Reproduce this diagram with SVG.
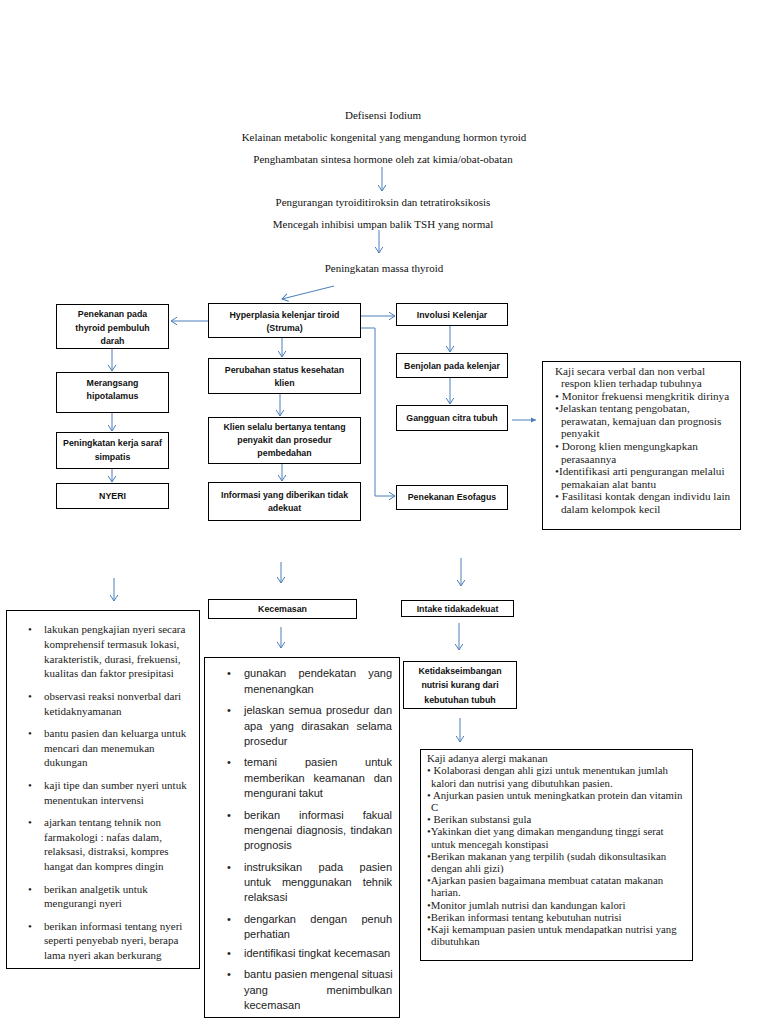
<svg xmlns="http://www.w3.org/2000/svg" width="768" height="1024" viewBox="0 0 768 1024">
<defs>
<marker id="arr" markerUnits="userSpaceOnUse" markerWidth="12" markerHeight="12" refX="9" refY="6" orient="auto">
<path d="M3,2.2 L9,6 L3,9.8" fill="none" stroke="#4a7ebb" stroke-width="1"/>
</marker>
<marker id="arrs" markerUnits="userSpaceOnUse" markerWidth="8" markerHeight="8" refX="5" refY="3" orient="auto">
<path d="M0,0.5 L5,3 L0,5.5 z" fill="#4a7ebb"/>
</marker>
<style>
.box{fill:#fff;stroke:#000;stroke-width:1}
.bt{font-family:"Liberation Sans",Arial,sans-serif;font-size:8.8px;font-weight:bold;text-anchor:middle;fill:#111}
.tt{font-family:"Liberation Serif","Times New Roman",serif;font-size:11px;text-anchor:middle;fill:#111}
.sr{font-family:"Liberation Serif","Times New Roman",serif;font-size:11px;fill:#222}
.sr1{font-family:"Liberation Serif","Times New Roman",serif;font-size:11.2px;fill:#222}
.sr2{font-family:"Liberation Serif","Times New Roman",serif;font-size:10.8px;fill:#222}
.ss{font-family:"Liberation Sans",Arial,sans-serif;font-size:11px;fill:#222}
.ssr{font-family:"Liberation Sans",Arial,sans-serif;font-size:11px;fill:#222;text-anchor:end}
.conn{stroke:#4a7ebb;stroke-width:1;fill:none;marker-end:url(#arr)}
</style>
</defs>
<rect width="768" height="1024" fill="#fff"/>

<g id="top-text">
<text class="tt" x="383" y="119">Defisensi Iodium</text>
<text class="tt" x="384" y="141">Kelainan metabolic kongenital yang mengandung hormon tyroid</text>
<text class="tt" x="383" y="163">Penghambatan sintesa hormone oleh zat kimia/obat-obatan</text>
<text class="tt" x="383" y="206">Pengurangan tyroiditiroksin dan tetratiroksikosis</text>
<text class="tt" x="383" y="228">Mencegah inhibisi umpan balik TSH yang normal</text>
<text class="tt" x="384" y="272">Peningkatan massa thyroid</text>
</g>

<g id="connectors">
<line class="conn" x1="382" y1="167" x2="382" y2="191"/>
<line class="conn" x1="379" y1="230" x2="379" y2="253"/>
<line class="conn" x1="334" y1="286" x2="282" y2="299"/>
<line class="conn" x1="208" y1="321" x2="171" y2="321"/>
<line class="conn" x1="112" y1="348" x2="112" y2="371"/>
<line class="conn" x1="112" y1="412" x2="112" y2="431"/>
<line class="conn" x1="112" y1="468" x2="112" y2="482"/>
<line class="conn" x1="282" y1="337" x2="282" y2="357"/>
<line class="conn" x1="280" y1="393" x2="280" y2="416"/>
<line class="conn" x1="282" y1="463" x2="282" y2="481"/>
<line class="conn" x1="360" y1="316" x2="395" y2="316"/>
<polyline class="conn" points="360,328 375,328 375,496 395,496"/>
<line class="conn" x1="450" y1="325" x2="450" y2="352"/>
<line class="conn" x1="450" y1="377" x2="450" y2="404"/>
<line x1="512" y1="420" x2="536" y2="420" stroke="#4a7ebb" stroke-width="1" marker-end="url(#arrs)"/>
<line class="conn" x1="114" y1="578" x2="114" y2="601"/>
<line class="conn" x1="281" y1="562" x2="281" y2="583"/>
<line class="conn" x1="281" y1="627" x2="281" y2="648"/>
<line class="conn" x1="461" y1="558" x2="461" y2="586"/>
<line class="conn" x1="459" y1="623" x2="459" y2="650"/>
<line class="conn" x1="460" y1="718" x2="460" y2="742"/>
</g>

<g id="penekanan-pembuluh">
<rect class="box" x="56.5" y="304.5" width="112" height="44"/>
<text class="bt" x="112.5" y="317">Penekanan pada</text>
<text class="bt" x="112.5" y="331">thyroid pembuluh</text>
<text class="bt" x="112.5" y="344">darah</text>
</g>
<g id="merangsang">
<rect class="box" x="56.5" y="372.5" width="112" height="40"/>
<text class="bt" x="112.5" y="386">Merangsang</text>
<text class="bt" x="112.5" y="399">hipotalamus</text>
</g>
<g id="peningkatan-saraf">
<rect class="box" x="56.5" y="432.5" width="112" height="36"/>
<text class="bt" x="112.5" y="446">Peningkatan kerja saraf</text>
<text class="bt" x="112.5" y="460">simpatis</text>
</g>
<g id="nyeri">
<rect class="box" x="56.5" y="483.5" width="112" height="25"/>
<text class="bt" x="112.5" y="499">NYERI</text>
</g>

<g id="hyperplasia">
<rect class="box" x="208.5" y="303.5" width="152" height="34"/>
<text class="bt" x="284.5" y="318">Hyperplasia kelenjar tiroid</text>
<text class="bt" x="284.5" y="331">(Struma)</text>
</g>
<g id="perubahan">
<rect class="box" x="208.5" y="358.5" width="152" height="35"/>
<text class="bt" x="284.5" y="373">Perubahan status kesehatan</text>
<text class="bt" x="284.5" y="386">klien</text>
</g>
<g id="klien-bertanya">
<rect class="box" x="208.5" y="417.5" width="152" height="46"/>
<text class="bt" x="284.5" y="430">Klien selalu bertanya tentang</text>
<text class="bt" x="284.5" y="443">penyakit dan prosedur</text>
<text class="bt" x="284.5" y="456">pembedahan</text>
</g>
<g id="informasi">
<rect class="box" x="208.5" y="482.5" width="152" height="38"/>
<text class="bt" x="284.5" y="498">Informasi yang diberikan tidak</text>
<text class="bt" x="284.5" y="511">adekuat</text>
</g>

<g id="involusi">
<rect class="box" x="396.5" y="303.5" width="111" height="22"/>
<text class="bt" x="452" y="317.5">Involusi Kelenjar</text>
</g>
<g id="benjolan">
<rect class="box" x="396.5" y="353.5" width="111" height="24"/>
<text class="bt" x="452" y="368.5">Benjolan pada kelenjar</text>
</g>
<g id="gangguan">
<rect class="box" x="396.5" y="405.5" width="111" height="25"/>
<text class="bt" x="452" y="420.5">Gangguan citra tubuh</text>
</g>
<g id="esofagus">
<rect class="box" x="396.5" y="485.5" width="111" height="24"/>
<text class="bt" x="452" y="500">Penekanan Esofagus</text>
</g>

<g id="intervensi-citra">
<rect class="box" x="542.5" y="361.5" width="198" height="168"/>
<g class="sr1">
<text x="555" y="374.5">Kaji secara verbal dan non verbal</text>
<text x="561" y="387">respon klien terhadap tubuhnya</text>
<text x="555" y="399.6">• Monitor frekuensi mengkritik dirinya</text>
<text x="555" y="412.2">•Jelaskan tentang pengobatan,</text>
<text x="561" y="424.8">perawatan, kemajuan dan prognosis</text>
<text x="561" y="437.4">penyakit</text>
<text x="555" y="450">• Dorong klien mengungkapkan</text>
<text x="561" y="462.6">perasaannya</text>
<text x="555" y="475.2">•Identifikasi arti pengurangan melalui</text>
<text x="561" y="487.8">pemakaian alat bantu</text>
<text x="555" y="500.4">• Fasilitasi kontak dengan individu lain</text>
<text x="561" y="513">dalam kelompok kecil</text>
</g>
</g>

<g id="intervensi-nyeri">
<rect class="box" x="6.5" y="610.5" width="193" height="358"/>
<g class="sr">
<text x="28" y="633">•</text>
<text x="44" y="633">lakukan pengkajian nyeri secara</text>
<text x="44" y="647.8">komprehensif termasuk lokasi,</text>
<text x="44" y="662.6">karakteristik, durasi, frekuensi,</text>
<text x="44" y="677.4">kualitas dan faktor presipitasi</text>
<text x="28" y="699.7">•</text>
<text x="44" y="699.7">observasi reaksi nonverbal dari</text>
<text x="44" y="714.5">ketidaknyamanan</text>
<text x="28" y="736.8">•</text>
<text x="44" y="736.8">bantu pasien dan keluarga untuk</text>
<text x="44" y="751.6">mencari dan menemukan</text>
<text x="44" y="766.4">dukungan</text>
<text x="28" y="788.7">•</text>
<text x="44" y="788.7">kaji tipe dan sumber nyeri untuk</text>
<text x="44" y="803.5">menentukan intervensi</text>
<text x="28" y="825.8">•</text>
<text x="44" y="825.8">ajarkan tentang tehnik non</text>
<text x="44" y="840.6">farmakologi : nafas dalam,</text>
<text x="44" y="855.4">relaksasi, distraksi, kompres</text>
<text x="44" y="870.2">hangat dan kompres dingin</text>
<text x="28" y="892.5">•</text>
<text x="44" y="892.5">berikan analgetik untuk</text>
<text x="44" y="907.3">mengurangi nyeri</text>
<text x="28" y="929.6">•</text>
<text x="44" y="929.6">berikan informasi tentang nyeri</text>
<text x="44" y="944.4">seperti penyebab nyeri, berapa</text>
<text x="44" y="959.2">lama nyeri akan berkurang</text>
</g>
</g>

<g id="kecemasan">
<rect class="box" x="208.5" y="599.5" width="148" height="19"/>
<text class="bt" x="282.5" y="612">Kecemasan</text>
</g>

<g id="intervensi-kecemasan">
<rect class="box" x="204.5" y="657.5" width="195" height="360"/>
<g class="ss">
<text x="227" y="677">•</text>
<text x="244" y="677">gunakan</text><text x="298.5" y="677">pendekatan</text><text class="ssr" x="392" y="677">yang</text>
<text x="244" y="692.5">menenangkan</text>
<text x="227" y="714">•</text>
<text x="244" y="714">jelaskan</text><text x="288.6" y="714">semua</text><text x="325.9" y="714">prosedur</text><text class="ssr" x="392" y="714">dan</text>
<text x="244" y="729.5">apa</text><text x="269.9" y="729.5">yang</text><text x="301.3" y="729.5">dirasakan</text><text class="ssr" x="392" y="729.5">selama</text>
<text x="244" y="745">prosedur</text>
<text x="227" y="766">•</text>
<text x="244" y="766">temani</text><text x="304.9" y="766">pasien</text><text class="ssr" x="392" y="766">untuk</text>
<text x="244" y="781.5">memberikan</text><text x="313.4" y="781.5">keamanan</text><text class="ssr" x="392" y="781.5">dan</text>
<text x="244" y="797">mengurani takut</text>
<text x="227" y="818.5">•</text>
<text x="244" y="818.5">berikan</text><text x="299.1" y="818.5">informasi</text><text class="ssr" x="392" y="818.5">fakual</text>
<text x="244" y="834">mengenai</text><text x="296.6" y="834">diagnosis,</text><text class="ssr" x="392" y="834">tindakan</text>
<text x="244" y="849">prognosis</text>
<text x="227" y="870.5">•</text>
<text x="244" y="870.5">instruksikan</text><text x="318.6" y="870.5">pada</text><text class="ssr" x="392" y="870.5">pasien</text>
<text x="244" y="886">untuk</text><text x="281.9" y="886">menggunakan</text><text class="ssr" x="392" y="886">tehnik</text>
<text x="244" y="901">relaksasi</text>
<text x="227" y="923">•</text>
<text x="244" y="923">dengarkan</text><text x="310.3" y="923">dengan</text><text class="ssr" x="392" y="923">penuh</text>
<text x="244" y="938">perhatian</text>
<text x="227" y="957">•</text>
<text x="244" y="957">identifikasi tingkat kecemasan</text>
<text x="227" y="978">•</text>
<text x="244" y="978">bantu pasien mengenal situasi</text>
<text x="244" y="993.5">yang</text><text class="ssr" x="392" y="993.5">menimbulkan</text>
<text x="244" y="1008.5">kecemasan</text>
</g>
</g>

<g id="intake">
<rect class="box" x="401.5" y="600.5" width="112" height="16"/>
<text class="bt" x="457.5" y="611.8">Intake tidakadekuat</text>
</g>
<g id="ketidakseimbangan">
<rect class="box" x="403.5" y="661.5" width="113" height="47"/>
<text class="bt" x="460" y="673.5">Ketidakseimbangan</text>
<text class="bt" x="460" y="688">nutrisi kurang dari</text>
<text class="bt" x="460" y="702.5">kebutuhan tubuh</text>
</g>

<g id="intervensi-nutrisi">
<rect class="box" x="420.5" y="749.5" width="272" height="211"/>
<g class="sr2">
<text x="427" y="762.2">Kaji adanya alergi makanan</text>
<text x="427" y="774.4">• Kolaborasi dengan ahli gizi untuk menentukan jumlah</text>
<text x="431" y="786.6">kalori dan nutrisi yang dibutuhkan pasien.</text>
<text x="427" y="798.8">• Anjurkan pasien untuk meningkatkan protein dan vitamin</text>
<text x="431" y="811">C</text>
<text x="427" y="823.2">• Berikan substansi gula</text>
<text x="427" y="835.4">•Yakinkan diet yang dimakan mengandung tinggi serat</text>
<text x="431" y="847.6">untuk mencegah konstipasi</text>
<text x="427" y="859.8">•Berikan makanan yang terpilih (sudah dikonsultasikan</text>
<text x="431" y="872">dengan ahli gizi)</text>
<text x="427" y="884.2">•Ajarkan pasien bagaimana membuat catatan makanan</text>
<text x="431" y="896.4">harian.</text>
<text x="427" y="908.6">•Monitor jumlah nutrisi dan kandungan kalori</text>
<text x="427" y="920.8">•Berikan informasi tentang kebutuhan nutrisi</text>
<text x="427" y="933">•Kaji kemampuan pasien untuk mendapatkan nutrisi yang</text>
<text x="431" y="945.2">dibutuhkan</text>
</g>
</g>
</svg>
